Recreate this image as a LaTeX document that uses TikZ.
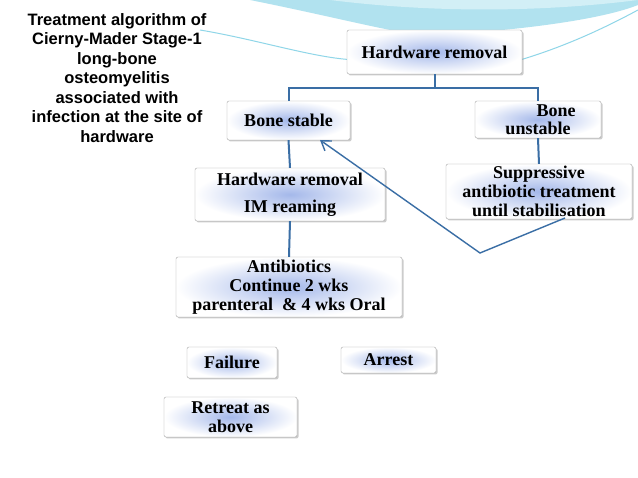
\documentclass[tikz,border=0pt]{standalone}
\usepackage{fontspec}
\setmainfont{Liberation Serif}
\newfontfamily\titlefont{Liberation Sans}
\usetikzlibrary{shadows,arrows.meta}
\definecolor{linec}{HTML}{3A6EA5}
\definecolor{boxc}{HTML}{A4B8EA}
\definecolor{swoosh}{HTML}{8FD6E8}
\tikzset{
  bx/.style={draw=gray!70, rounded corners=2pt, inner color=boxc, outer color=white,
    drop shadow={shadow xshift=1.5pt,shadow yshift=-1.5pt,opacity=0.4},
    font=\bfseries\fontsize{18}{19}\selectfont, align=center, minimum width=#1, minimum height=14pt, inner sep=1pt},
  ln/.style={draw=linec, line width=2pt},
}
\begin{document}
\begin{tikzpicture}[x=1pt,y=-1pt]
\useasboundingbox (0,0) rectangle (638,478);
\fill[white] (0,0) rectangle (638,478);
% swoosh
\fill[swoosh!70] (250,0) .. controls (350,20) and (420,40) .. (440,35) .. controls (520,30) and (600,20) .. (638,5) -- (638,0) -- cycle;
\fill[swoosh!40] (330,0) .. controls (450,15) and (560,10) .. (638,0) -- cycle;
\draw[swoosh, line width=1pt] (200,30) .. controls (260,40) and (320,60) .. (360,60);
\draw[swoosh, line width=1pt] (520,60) .. controls (570,45) and (610,25) .. (638,10);
% title
\node[font=\titlefont\bfseries\fontsize{16.5}{19.5}\selectfont, align=center] (title) at (117,78)
 {Treatment algorithm of\\Cierny-Mader Stage-1\\long-bone\\osteomyelitis\\associated with\\infection at the site of\\hardware};
% boxes
\node[bx=175pt, minimum height=44pt] (hr) at (434.5,52) {Hardware removal};
\node[bx=123pt, minimum height=39pt] (bs) at (288.5,120.5) {Bone stable};
\node[bx=126pt, minimum height=37pt, font=\bfseries\fontsize{18}{18}\selectfont] (bu) at (538,119.5) {\hspace*{2em}Bone\\unstable};
\node[bx=186pt, minimum height=55pt, font=\bfseries\fontsize{18}{19}\selectfont] (sup) at (539,191.5) {Suppressive\\antibiotic treatment\\until stabilisation};
\node[bx=190pt, minimum height=53pt, font=\bfseries\fontsize{18}{27}\selectfont] (im) at (290,194.5) {Hardware removal\\IM reaming};
\node[bx=226pt, minimum height=60pt, font=\bfseries\fontsize{18}{19}\selectfont] (ab) at (289,287) {Antibiotics\\Continue 2 wks\\parenteral \ \& 4 wks Oral};
\node[bx=90pt, minimum height=31pt] (fa) at (232,362.5) {Failure};
\node[bx=95pt, minimum height=26pt] (ar) at (388.5,360) {Arrest};
\node[bx=133pt, minimum height=40pt, font=\bfseries\fontsize{18}{19}\selectfont] (rt) at (230.5,417) {Retreat as\\above};
% connectors
\draw[ln] (hr.south) -- ++(0,14) -| (bs.north);
\draw[ln] (hr.south) ++(0,14) -| (bu.north);
\draw[ln] (bs.south) -- (im.north);
\draw[ln] (im.south) -- (ab.north);
\draw[ln] (bu.south) -- (sup.north);
\coordinate (v) at (480,253);
\draw[draw=linec, line width=1.4pt, -{Straight Barb[length=9pt,width=12pt]}] (565,218) -- (v) -- (320,140);
\end{tikzpicture}
\end{document}
